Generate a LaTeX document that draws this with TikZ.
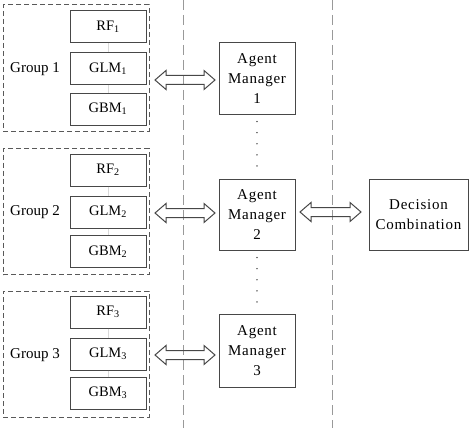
\documentclass[tikz,border=0pt]{standalone}
\usepackage{fontspec}
\setmainfont{Liberation Serif}
\usetikzlibrary{calc}
\newcommand\dblarr[2]{\draw[dbl] (#1) -- ++(11,-9.5) -- ++(0,5) -- ($(#2)+(-11,-4.5)$) -- ++(0,-5) -- (#2) -- ++(-11,9.5) -- ++(0,-5) -- ($(#1)+(11,4.5)$) -- ++(0,5) -- cycle;}
\begin{document}
\begin{tikzpicture}[x=1pt,y=-1pt,
  box/.style={draw=black!72, line width=1pt, inner sep=0pt, align=center, font=\fontsize{15}{20}\selectfont\addfontfeatures{LetterSpace=5}},
  model/.style={box, minimum width=76pt, minimum height=32pt, font=\fontsize{14.5}{18}\selectfont},
  manager/.style={box, minimum width=76pt, minimum height=71pt},
  group/.style={draw=black!65, line width=1pt, dash pattern=on 5pt off 3pt, minimum width=146pt, minimum height=126pt, inner sep=0pt},
  glabel/.style={font=\fontsize{15}{18}\selectfont, inner sep=0pt},
  faint/.style={draw=black!15, line width=0.6pt},
  sep/.style={draw=black!40, line width=1pt, dash pattern=on 10pt off 5pt},
  dots/.style={draw=black!60, line width=1.4pt, line cap=round, dash pattern=on 0.1pt off 11pt},
  dbl/.style={draw=black!72, line width=1pt, line join=miter}
]
\useasboundingbox (0,0) rectangle (474,428);
% separator lines
\coordinate (s1t) at (183,0); \coordinate (s1b) at (183,428);
\coordinate (s2t) at (332,0); \coordinate (s2b) at (332,428);
\draw[sep] (s1t) -- (s1b);
\draw[sep] (s2t) -- (s2b);
% groups
\node[group] (g1) at (76,68) {};
\node[group] (g2) at (76,211.5) {};
\node[group] (g3) at (76,354) {};
\node[glabel] (l1) at (35,69) {Group 1};
\node[glabel] (l2) at (35,212) {Group 2};
\node[glabel] (l3) at (35,355) {Group 3};
% models
\node[model] (rf1) at (108,27) {RF\textsubscript{1}};
\node[model] (glm1) at (108,69) {GLM\textsubscript{1}};
\node[model] (gbm1) at (108,109) {GBM\textsubscript{1}};
\node[model] (rf2) at (108,170) {RF\textsubscript{2}};
\node[model] (glm2) at (108,212) {GLM\textsubscript{2}};
\node[model] (gbm2) at (108,251.5) {GBM\textsubscript{2}};
\node[model] (rf3) at (108,312) {RF\textsubscript{3}};
\node[model] (glm3) at (108,354) {GLM\textsubscript{3}};
\node[model] (gbm3) at (108,393) {GBM\textsubscript{3}};
\foreach \i in {1,2,3}{
  \draw[faint] (rf\i) -- (glm\i);
  \draw[faint] (glm\i) -- (gbm\i);
}
% managers
\node[manager] (m1) at (257,78.5) {Agent\\Manager\\1};
\node[manager] (m2) at (257,214.5) {Agent\\Manager\\2};
\node[manager, minimum height=73pt] (m3) at (257,350.5) {Agent\\Manager\\3};
\node[box, minimum width=99pt, minimum height=71pt] (dc) at (418.5,214.5) {Decision\\Combination};
\draw[dots] ($(m1.south)+(0,7)$) -- ($(m2.north)+(0,-4)$);
\draw[dots] ($(m2.south)+(0,7)$) -- ($(m3.north)+(0,-4)$);
% arrows
\coordinate (a1l) at (155,80); \coordinate (a1r) at (215,80);
\coordinate (a2l) at (155,213); \coordinate (a2r) at (215,213);
\coordinate (a3l) at (155,355); \coordinate (a3r) at (215,355);
\coordinate (a4l) at (300,212); \coordinate (a4r) at (361,212);
\dblarr{a1l}{a1r}
\dblarr{a2l}{a2r}
\dblarr{a3l}{a3r}
\dblarr{a4l}{a4r}
\end{tikzpicture}
\end{document}
